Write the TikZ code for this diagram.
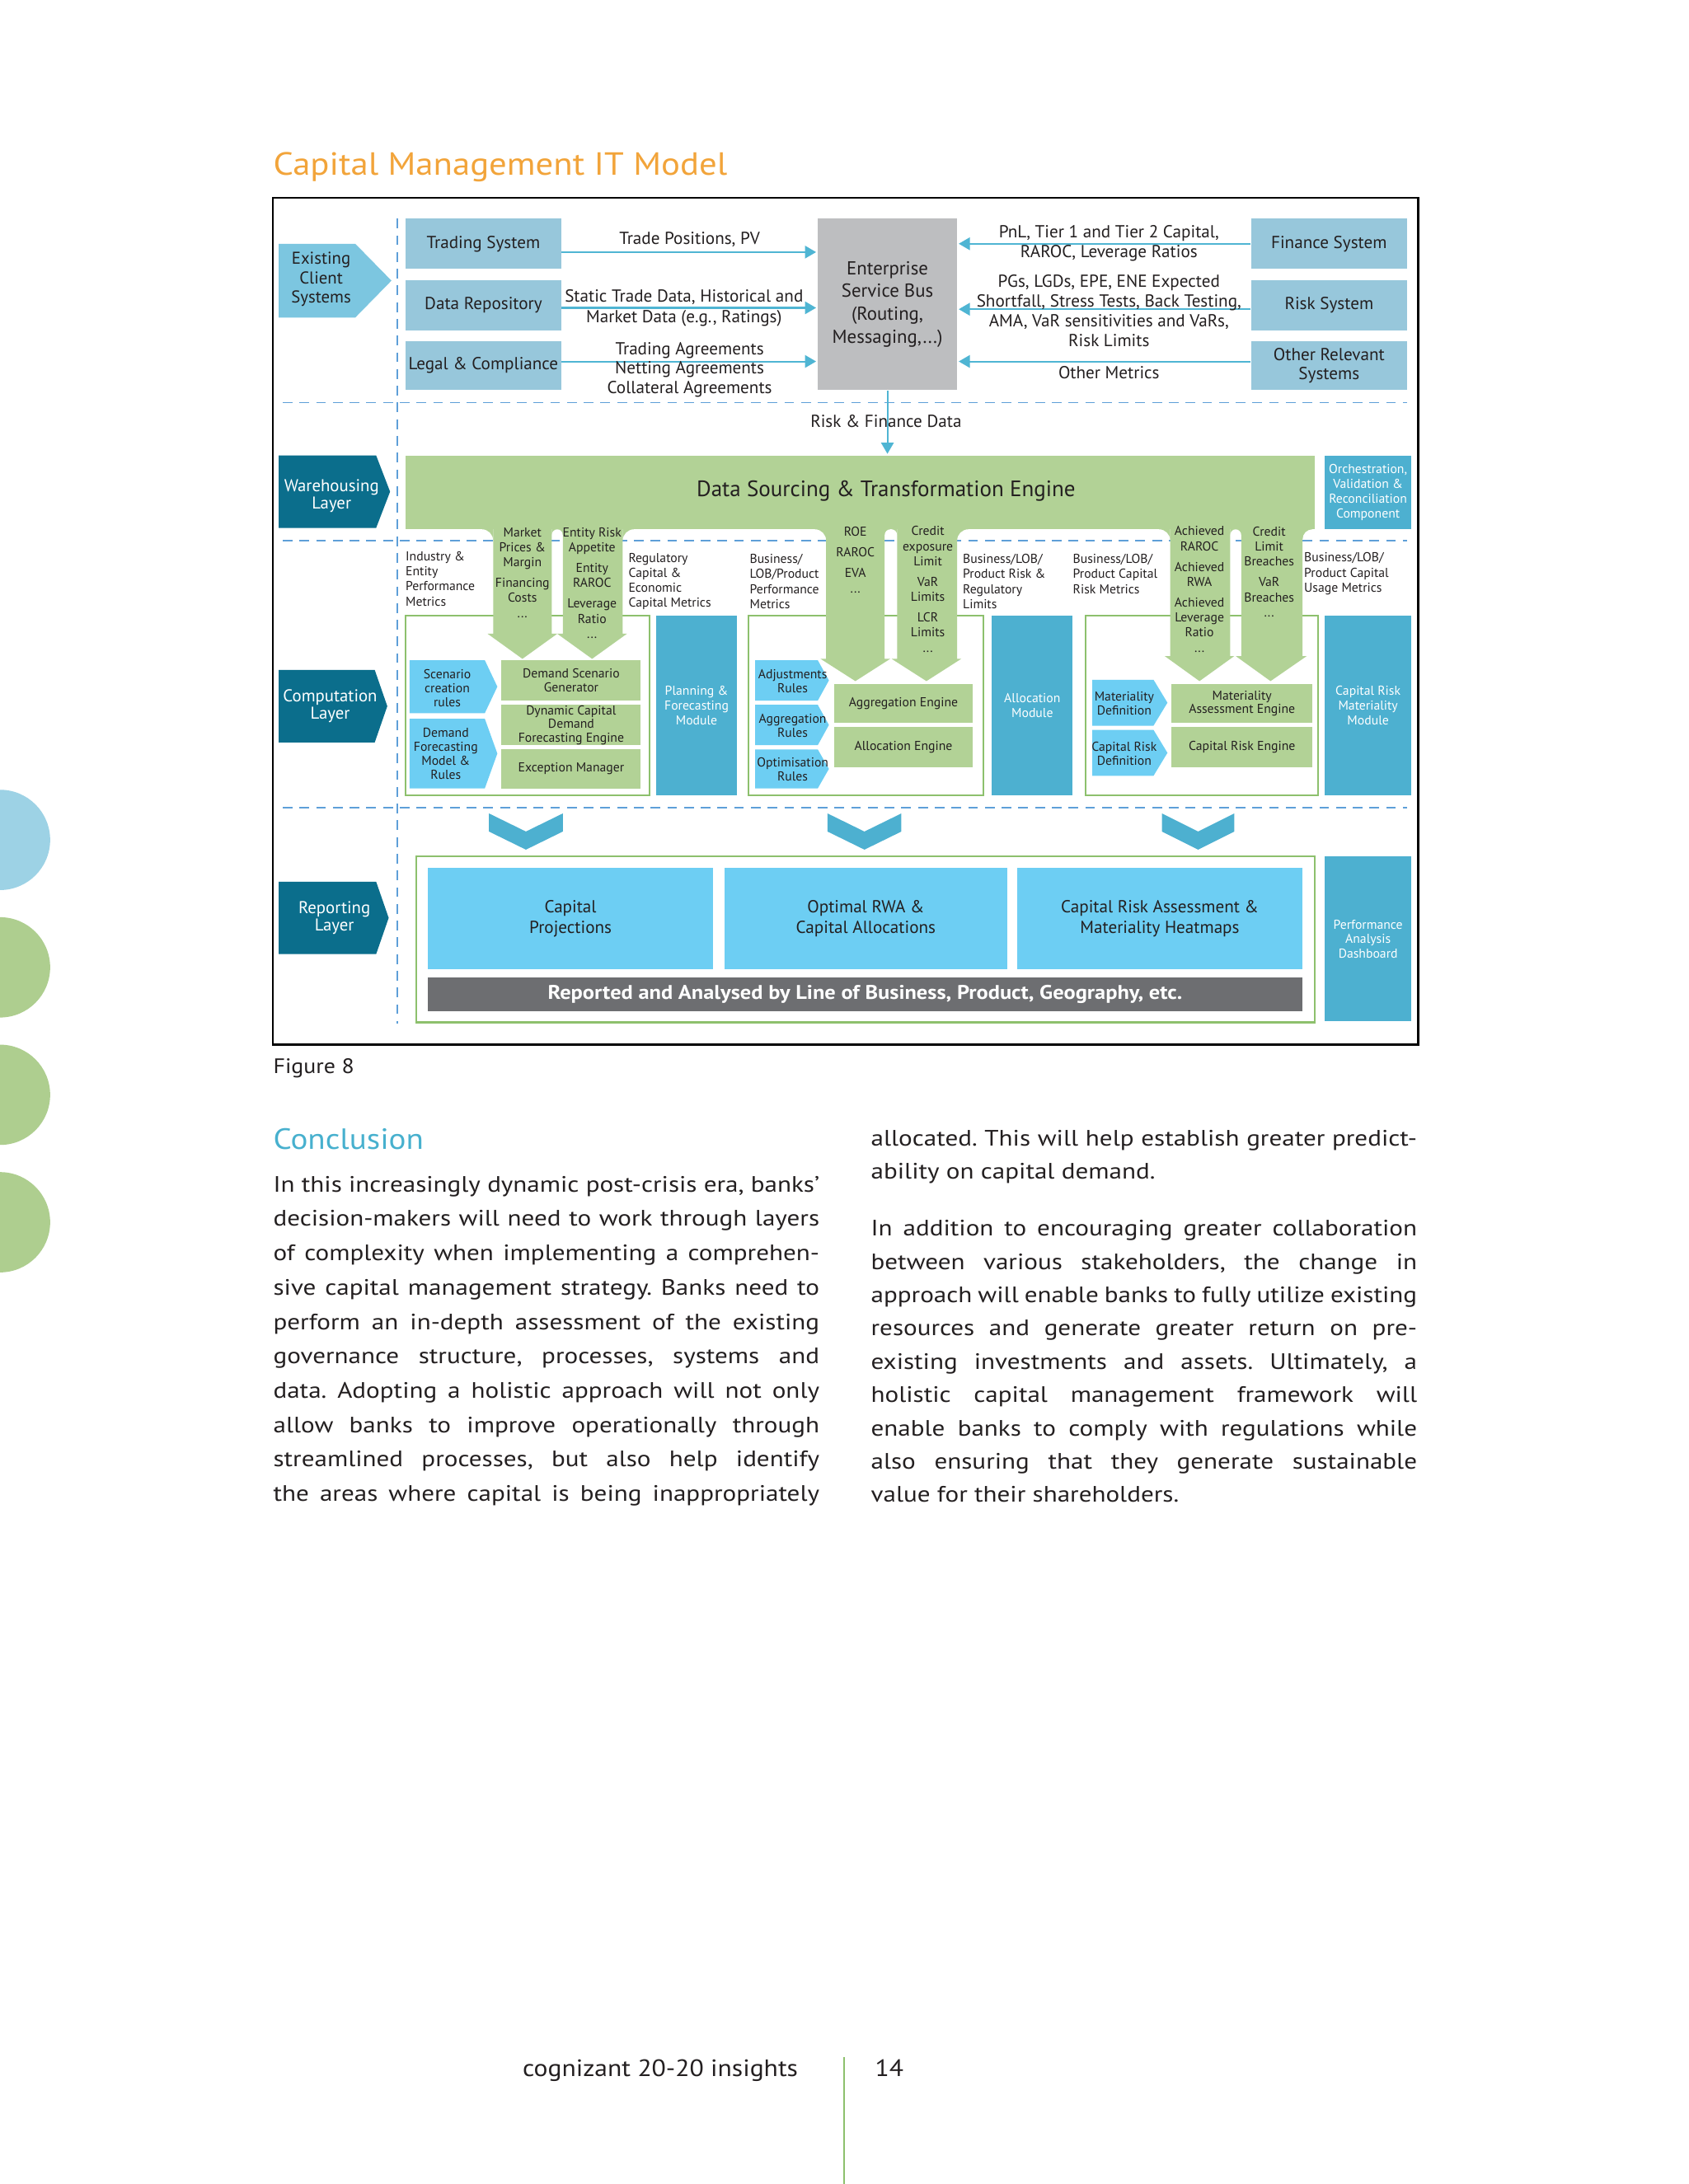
\documentclass[tikz,border=0pt]{standalone}
\usepackage{fontspec}
\setmainfont{PT Sans}
\newfontfamily\widefont{PT Sans}[FakeStretch=1.1]
\newfontfamily\bodyfont{PT Sans}[FakeStretch=1.15]
\frenchspacing
\usetikzlibrary{arrows.meta}
\definecolor{ink}{HTML}{231F20}
\definecolor{sysblue}{HTML}{97C7DB}
\definecolor{ecsblue}{HTML}{7CC6E0}
\definecolor{layerteal}{HTML}{0B6E8C}
\definecolor{esbgray}{HTML}{BDBEC0}
\definecolor{flowblue}{HTML}{4FB5D3}
\definecolor{gfill}{HTML}{B2D296}
\definecolor{gborder}{HTML}{8DC06D}
\definecolor{modblue}{HTML}{4DB0D0}
\definecolor{ltblue}{HTML}{6DCEF3}
\definecolor{dgray}{HTML}{6D6E71}
\definecolor{dashc}{HTML}{5E9FD8}
\definecolor{titleorange}{HTML}{F2A43A}
\definecolor{concl}{HTML}{47B0CE}
\definecolor{circblue}{HTML}{9DD2E5}
\definecolor{circgreen}{HTML}{AECE8F}
% fillets: left side of arrow at x=#1 radius #2 ; right side
\newcommand{\filL}[2]{\fill[gfill] ({#1-#2},379) -- (#1,379) -- (#1,{380+#2}) .. controls (#1,{380+0.448*#2}) and ({#1-0.448*#2},380) .. ({#1-#2},380) -- cycle;}
\newcommand{\filR}[2]{\fill[gfill] ({#1+#2},379) -- (#1,379) -- (#1,{380+#2}) .. controls (#1,{380+0.448*#2}) and ({#1+0.448*#2},380) .. ({#1+#2},380) -- cycle;}
% green down arrow: a b yh ha hb tx ty
\newcommand{\garrow}[7]{\fill[gfill] (#1,376) -- (#2,376) -- (#2,#3) -- (#5,#3) -- (#6,#7) -- (#4,#3) -- (#1,#3) -- cycle;}
\newcommand{\jline}[4]{\node[bodytext] (#1) at (#2,#3) {\hbox to 392pt{#4}};}
\newcommand{\rline}[4]{\node[bodytext] (#1) at (#2,#3) {#4};}
\begin{document}
\begin{tikzpicture}[x=1pt,y=-1pt,
  sys/.style={fill=sysblue, inner sep=0pt, align=center, text=ink, font=\fontsize{12.5}{14}\selectfont},
  lbl/.style={inner sep=0pt, align=center, text=ink, font=\fontsize{12.5}{14}\selectfont},
  flow/.style={draw=flowblue, line width=1.2pt, -{Triangle[length=8pt,width=9pt]}, shorten >=1pt},
  small/.style={inner sep=0pt, text=ink, font=\fontsize{9.3}{10.8}\selectfont},
  gbox/.style={fill=gfill, inner sep=0pt, align=center, text=ink, font=\fontsize{9.3}{9.8}\selectfont},
  grp/.style={draw=gborder, line width=1.2pt, fill=white, inner sep=0pt},
  mod/.style={fill=modblue, inner sep=0pt, align=center, text=white, font=\fontsize{9.3}{10.4}\selectfont},
  pent/.style={inner sep=0pt, align=center, text=ink, font=\fontsize{9.3}{10}\selectfont},
  layer/.style={inner sep=0pt, align=center, text=white, font=\fontsize{12.3}{12}\selectfont},
  rep/.style={fill=ltblue, inner sep=0pt, align=center, text=ink, font=\fontsize{12.5}{15}\selectfont},
  sepline/.style={draw=dashc, line width=1pt, dash pattern=on 7pt off 5pt},
  bodytext/.style={anchor=base west, inner sep=0pt, text=ink, font=\bodyfont\fontsize{16}{20}\selectfont}
]
\useasboundingbox (0,0) rectangle (1211.8,1568);
\fill[white] (0,0) rectangle (1211.8,1568);

% side circles
\fill[circblue] (0,603) circle[radius=36pt];
\fill[circgreen] (0,694.5) circle[radius=36pt];
\fill[circgreen] (0,786) circle[radius=36pt];
\fill[circgreen] (0,877.5) circle[radius=36pt];

% title
\node[anchor=base west, inner sep=0pt, text=titleorange, font=\widefont\fontsize{23}{26}\selectfont] (title) at (196,126) {Capital Management IT Model};

% frame
\draw[black, line width=1.3pt] (196,142) rectangle (1018,750);

% separators
\draw[sepline] (203,289) -- (1010,289);
\draw[sepline] (203,388) -- (1010,388);
\draw[sepline] (203,580) -- (1010,580);
\draw[sepline] (285,157) -- (285,735);

% layer labels
\fill[ecsblue] (200,175) -- (255,175) -- (281,201.5) -- (255,228) -- (200,228) -- cycle;
\node[lbl, font=\fontsize{12.3}{14}\selectfont] (ecs) at (230.5,200.5) {Existing\\Client\\Systems};
\fill[layerteal] (200,327) -- (270,327) -- (280,353) -- (270,379) -- (200,379) -- cycle;
\node[layer] (whl) at (238,356) {Warehousing\\Layer};
\fill[layerteal] (200,481) -- (269,481) -- (278,507) -- (269,533) -- (200,533) -- cycle;
\node[layer] (cpl) at (237,507) {Computation\\Layer};
\fill[layerteal] (200,633) -- (270,633) -- (279,659) -- (270,685) -- (200,685) -- cycle;
\node[layer] (rpl) at (240,659) {Reporting\\Layer};

% top systems
\node[sys, minimum width=112, minimum height=36] (ts) at (347,175) {Trading System};
\node[sys, minimum width=112, minimum height=36] (dr) at (347,219) {Data Repository};
\node[sys, minimum width=112, minimum height=35] (lc) at (347,262.5) {Legal \& Compliance};
\node[fill=esbgray, inner sep=0pt, align=center, text=ink, font=\fontsize{13.5}{16.5}\selectfont, minimum width=100, minimum height=123] (esb) at (637,218.5) {Enterprise\\Service Bus\\(Routing,\\Messaging,...)};
\node[sys, minimum width=112, minimum height=36] (fs) at (954,175) {Finance System};
\node[sys, minimum width=112, minimum height=36] (rs) at (954,219) {Risk System};
\node[sys, minimum width=112, minimum height=35] (ors) at (954,262.5) {Other Relevant\\Systems};

% flows
\draw[flow] ([yshift=-6pt]ts.east) -- ([yshift=-6pt]ts.east -| esb.west);
\draw[flow] ([yshift=-2pt]dr.east) -- ([yshift=-2pt]dr.east -| esb.west);
\draw[flow] ([yshift=3pt]lc.east) -- ([yshift=3pt]lc.east -| esb.west);
\draw[flow] (fs.west) -- (fs.west -| esb.east);
\draw[flow] ([yshift=-3pt]rs.west) -- ([yshift=-3pt]rs.west -| esb.east);
\draw[flow] ([yshift=3pt]ors.west) -- ([yshift=3pt]ors.west -| esb.east);

\node[lbl] (l1) at (495,172) {Trade Positions, PV};
\node[lbl, font=\fontsize{12.5}{15}\selectfont] (l2) at (491,221) {Static Trade Data, Historical and\\Market Data (e.g., Ratings)};
\node[lbl] (l3) at (495,265.5) {Trading Agreements\\Netting Agreements\\Collateral Agreements};
\node[lbl] (r1) at (796,174.5) {PnL, Tier 1 and Tier 2 Capital,\\RAROC, Leverage Ratios};
\node[lbl, font=\fontsize{12.5}{14.3}\selectfont] (r2) at (796,223) {PGs, LGDs, EPE, ENE Expected\\Shortfall, Stress Tests, Back Testing,\\AMA, VaR sensitivities and VaRs,\\Risk Limits};
\node[lbl] (r3) at (796,267.5) {Other Metrics};

% groups and modules (computation)
\node[grp, minimum width=175, minimum height=129] (g1) at (378.5,506.5) {};
\node[grp, minimum width=169, minimum height=129] (g2) at (621.5,506.5) {};
\node[grp, minimum width=167, minimum height=129] (g3) at (862.5,506.5) {};
\node[mod, minimum width=58, minimum height=129] (pfm) at (500,506.5) {Planning \&\\Forecasting\\Module};
\node[mod, minimum width=58, minimum height=129] (am) at (741,506.5) {Allocation\\Module};
\node[mod, minimum width=62, minimum height=129] (crmm) at (982,506.5) {Capital Risk\\Materiality\\Module};

% data sourcing band
\node[fill=gfill, inner sep=0pt, minimum width=653, minimum height=53] (dse) at (617.5,353.5) {};
\node[inner sep=0pt, text=ink, font=\fontsize{16}{18}\selectfont] (dset) at (636,352.5) {Data Sourcing \& Transformation Engine};
\node[mod, font=\fontsize{9.3}{10.7}\selectfont, minimum width=62, minimum height=53] (orch) at (982,353.5) {Orchestration,\\Validation \&\\Reconciliation\\Component};

% green arrows
\garrow{354}{396}{455}{350}{400}{375}{473}
\garrow{404}{447}{455}{400}{450}{425}{473}
\garrow{593}{635}{473}{589}{639}{614}{489}
\garrow{644}{687}{473}{640}{690}{665}{489}
\garrow{840}{883}{471}{836}{886}{861}{489}
\garrow{891}{935}{471}{887}{938}{912}{489}
\filL{354}{8} \filR{396}{4} \filL{404}{4} \filR{447}{8}
\filL{593}{8} \filR{635}{4} \filL{644}{4} \filR{687}{8}
\filL{840}{8} \filR{883}{4} \filL{891}{4} \filR{935}{7}

% risk & finance data
\node[lbl] (rfd) at (636,302.5) {Risk \& Finance Data};
\draw[flow] (esb.south) -- (esb.south |- dse.north);

% gap labels
\node[small, anchor=west, align=left] (ind) at (291,415.5) {Industry \&\\Entity\\Performance\\Metrics};
\node[small, align=center] (a1t) at (375,411) {Market\\Prices \&\\Margin\\[4pt]Financing\\Costs\\...};
\node[small, align=center] (a2t) at (425,418.5) {Entity Risk\\Appetite\\[4pt]Entity\\RAROC\\[4pt]Leverage\\Ratio\\...};
\node[small, anchor=west, align=left] (reg) at (451,417.5) {Regulatory\\Capital \&\\Economic\\Capital Metrics};
\node[small, anchor=west, align=left] (bus1) at (538,417.5) {Business/\\LOB/Product\\Performance\\Metrics};
\node[small, align=center] (a3t) at (614,402) {ROE\\[4pt]RAROC\\[4pt]EVA\\...};
\node[small, align=center] (a4t) at (666,423) {Credit\\exposure\\Limit\\[4pt]VaR\\Limits\\[4pt]LCR\\Limits\\...};
\node[small, anchor=west, align=left] (bus2) at (691,417.5) {Business/LOB/\\Product Risk \&\\Regulatory\\Limits};
\node[small, anchor=west, align=left] (bus3) at (770,412) {Business/LOB/\\Product Capital\\Risk Metrics};
\node[small, align=center] (a5t) at (861,423) {Achieved\\RAROC\\[4pt]Achieved\\RWA\\[4pt]Achieved\\Leverage\\Ratio\\...};
\node[small, align=center] (a6t) at (911,410.5) {Credit\\Limit\\Breaches\\[4pt]VaR\\Breaches\\...};
\node[small, anchor=west, align=left] (bus4) at (936,412) {Business/LOB/\\Product Capital\\Usage Metrics};

% group 1 contents
\fill[ltblue] (294,474) -- (348,474) -- (357,493) -- (348,512) -- (294,512) -- cycle;
\node[pent] (scr) at (321,494) {Scenario\\creation\\rules};
\fill[ltblue] (294,516) -- (348,516) -- (357,541) -- (348,566) -- (294,566) -- cycle;
\node[pent] (dfm) at (320,541) {Demand\\Forecasting\\Model \&\\Rules};
\node[gbox, minimum width=100, minimum height=29] (dsg) at (410,488.5) {Demand Scenario\\Generator};
\node[gbox, minimum width=100, minimum height=29] (dcd) at (410,520.5) {Dynamic Capital\\Demand\\Forecasting Engine};
\node[gbox, minimum width=100, minimum height=28] (exm) at (410,552) {Exception Manager};

% group 2 contents
\fill[ltblue] (542,474) -- (587,474) -- (595,488.5) -- (587,503) -- (542,503) -- cycle;
\node[pent] (adj) at (569,489) {Adjustments\\Rules};
\fill[ltblue] (542,506) -- (587,506) -- (595,520.5) -- (587,535) -- (542,535) -- cycle;
\node[pent] (agr) at (569,521) {Aggregation\\Rules};
\fill[ltblue] (542,538) -- (587,538) -- (595,552) -- (587,566) -- (542,566) -- cycle;
\node[pent] (opt) at (569,552.5) {Optimisation\\Rules};
\node[gbox, minimum width=99, minimum height=28] (agge) at (648.5,505) {Aggregation Engine};
\node[gbox, minimum width=99, minimum height=29] (alle) at (648.5,536.5) {Allocation Engine};

% group 3 contents
\fill[ltblue] (784,488) -- (828,488) -- (838,504.5) -- (828,521) -- (784,521) -- cycle;
\node[pent] (matd) at (807,505) {Materiality\\Definition};
\fill[ltblue] (784,524) -- (828,524) -- (838,540.5) -- (828,557) -- (784,557) -- cycle;
\node[pent] (crd) at (807,541) {Capital Risk\\Definition};
\node[gbox, minimum width=101, minimum height=28] (mae) at (891.5,505) {Materiality\\Assessment Engine};
\node[gbox, minimum width=101, minimum height=29] (cre) at (891.5,536.5) {Capital Risk Engine};

% reporting
\fill[modblue] (351,584) -- (377.5,597) -- (404,584) -- (404,597) -- (377.5,610) -- (351,597) -- cycle;
\fill[modblue] (594,584) -- (620.5,597) -- (647,584) -- (647,597) -- (620.5,610) -- (594,597) -- cycle;
\fill[modblue] (834,584) -- (860,597) -- (886,584) -- (886,597) -- (860,610) -- (834,597) -- cycle;
\node[grp, minimum width=645, minimum height=119] (rf) at (621.5,674.5) {};
\node[rep, minimum width=205, minimum height=73] (cp) at (409.5,659.5) {Capital\\Projections};
\node[rep, minimum width=203, minimum height=73] (orwa) at (621.5,659.5) {Optimal RWA \&\\Capital Allocations};
\node[rep, minimum width=205, minimum height=73] (cra) at (832.5,659.5) {Capital Risk Assessment \&\\Materiality Heatmaps};
\node[fill=dgray, inner sep=0pt, minimum width=628, minimum height=24, text=white, font=\widefont\bfseries\fontsize{14.2}{15}\selectfont] (gbar) at (621,714) {Reported and Analysed by Line of Business, Product, Geography, etc.};
\node[mod, minimum width=62, minimum height=118] (pad) at (982,674) {Performance\\Analysis\\Dashboard};

% caption and text
\node[anchor=base west, inner sep=0pt, text=ink, font=\widefont\fontsize{15}{18}\selectfont] (fig) at (196,770.5) {Figure 8};
\node[anchor=base west, inner sep=0pt, text=concl, font=\widefont\fontsize{21}{24}\selectfont] (conc) at (196,825) {Conclusion};

\jline{p1}{196}{855.7}{In this increasingly dynamic post-crisis era, banks’}
\jline{p2}{196}{880.4}{decision-makers will need to work through layers}
\jline{p3}{196}{905.0}{of complexity when implementing a comprehen-}
\jline{p4}{196}{929.7}{sive capital management strategy. Banks need to}
\jline{p5}{196}{954.4}{perform an in-depth assessment of the existing}
\jline{p6}{196}{979.0}{governance structure, processes, systems and}
\jline{p7}{196}{1003.7}{data. Adopting a holistic approach will not only}
\jline{p8}{196}{1028.4}{allow banks to improve operationally through}
\jline{p9}{196}{1053.0}{streamlined processes, but also help identify}
\jline{p10}{196}{1077.7}{the areas where capital is being inappropriately}

\jline{q1}{625}{822.5}{allocated. This will help establish greater predict-}
\rline{q2}{625}{846.5}{ability on capital demand.}
\jline{q3}{625}{887.5}{In addition to encouraging greater collaboration}
\jline{q4}{625}{911.4}{between various stakeholders, the change in}
\jline{q5}{625}{935.3}{approach will enable banks to fully utilize existing}
\jline{q6}{625}{959.1}{resources and generate greater return on pre-}
\jline{q7}{625}{983.0}{existing investments and assets. Ultimately, a}
\jline{q8}{625}{1006.9}{holistic capital management framework will}
\jline{q9}{625}{1030.8}{enable banks to comply with regulations while}
\jline{q10}{625}{1054.6}{also ensuring that they generate sustainable}
\rline{q11}{625}{1078.5}{value for their shareholders.}

% footer
\node[anchor=base west, inner sep=0pt, text=ink, font=\widefont\fontsize{17}{20}\selectfont] (foot) at (375,1491) {cognizant 20-20 insights};
\node[anchor=base west, inner sep=0pt, text=ink, font=\widefont\fontsize{17}{20}\selectfont] (pg) at (628,1491) {14};
\draw[gborder, line width=1.5pt] (606,1477) -- (606,1568);
\end{tikzpicture}
\end{document}
